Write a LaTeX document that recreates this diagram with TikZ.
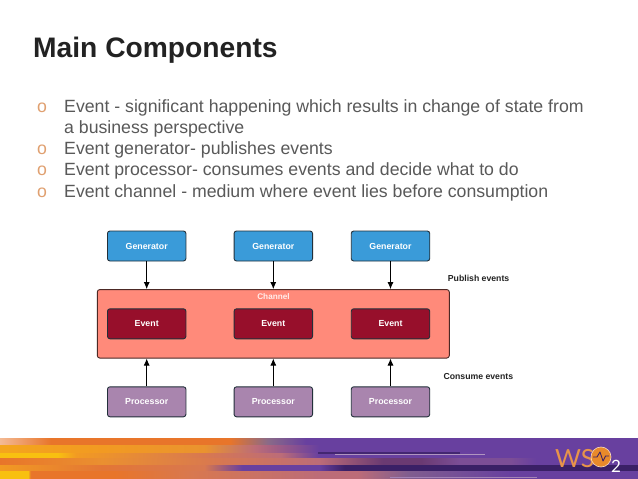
\documentclass[tikz,border=0pt]{standalone}
\usepackage{fontspec}
\setmainfont{Liberation Sans}
\newfontfamily\logofont{Lato}
\usetikzlibrary{arrows.meta}
\definecolor{genC}{HTML}{3A9BD9}
\definecolor{evC}{HTML}{970F2B}
\definecolor{prC}{HTML}{A985AE}
\definecolor{chC}{HTML}{FF8A7A}
\definecolor{edgeC}{HTML}{22303A}
\definecolor{bodyC}{HTML}{595959}
\definecolor{titleC}{HTML}{222222}
\definecolor{bulletC}{HTML}{E0A070}
\definecolor{logoC}{HTML}{E8944A}
\definecolor{logoO}{HTML}{E98A2B}
\definecolor{bOr}{HTML}{E8752A}
\definecolor{bYe}{HTML}{F8C010}
\definecolor{bAm}{HTML}{F29A22}
\definecolor{bSa}{HTML}{D87850}
\definecolor{bRo}{HTML}{BC6C78}
\definecolor{bPu}{HTML}{68409F}
\definecolor{bGr}{HTML}{8A6A88}
\definecolor{bDk}{HTML}{3A2066}
\definecolor{bMa}{HTML}{6A3A72}
\definecolor{bLi}{HTML}{7C4E96}
% position = 25 + x*50/638
\pgfdeclarehorizontalshading{sOne}{100bp}{color(0bp)=(bOr!50!white); color(25bp)=(bOr!50!white); color(29bp)=(bOr); color(43bp)=(bOr); color(46bp)=(bGr); color(49bp)=(bPu); color(100bp)=(bPu)}
\pgfdeclarehorizontalshading{sTwo}{100bp}{color(0bp)=(bAm!70!bYe); color(25bp)=(bAm!70!bYe); color(33bp)=(bAm); color(41bp)=(bAm!85!bRo); color(45bp)=(bRo); color(50bp)=(bPu); color(100bp)=(bPu)}
\pgfdeclarehorizontalshading{sThree}{100bp}{color(0bp)=(bYe); color(25bp)=(bYe); color(29.5bp)=(bYe); color(31bp)=(bAm); color(41bp)=(bSa); color(47bp)=(bRo); color(50bp)=(bPu); color(100bp)=(bPu)}
\pgfdeclarehorizontalshading{sFour}{100bp}{color(0bp)=(bOr); color(25bp)=(bOr); color(33bp)=(bAm!70!bSa); color(42bp)=(bSa); color(50bp)=(bRo); color(55bp)=(bMa); color(58bp)=(bMa); color(61bp)=(bLi); color(65bp)=(bLi); color(67bp)=(bPu); color(100bp)=(bPu)}
\pgfdeclarehorizontalshading{sFive}{100bp}{color(0bp)=(bAm); color(25bp)=(bAm); color(33bp)=(bOr!70!bSa); color(41bp)=(bSa); color(44bp)=(bPu); color(50bp)=(bPu); color(52bp)=(bDk); color(100bp)=(bDk)}
\pgfdeclarehorizontalshading{sSix}{100bp}{color(0bp)=(bYe); color(25bp)=(bYe); color(27.2bp)=(bYe); color(27.4bp)=(bOr); color(34bp)=(bOr); color(40bp)=(bSa); color(50bp)=(bRo); color(53bp)=(bRo); color(57bp)=(bGr!70!bPu); color(65bp)=(bPu); color(100bp)=(bPu)}
\tikzset{
  bandstrip/.style={draw=none},
  flowbox/.style={draw=edgeC, line width=0.9pt, rounded corners=2.5pt, minimum width=78.5pt, minimum height=30pt, inner sep=0pt, text=white, font=\fontsize{8.8}{10}\selectfont\bfseries},
  genbox/.style={flowbox, fill=genC},
  evbox/.style={flowbox, fill=evC},
  prbox/.style={flowbox, fill=prC},
  flow/.style={draw=black, line width=0.9pt, -{Latex[length=7pt,width=6pt]}},
  sidelabel/.style={inner sep=0pt, text=titleC, font=\fontsize{8.7}{10}\selectfont\bfseries},
  bodyline/.style={anchor=base west, inner sep=0pt, text=bodyC, font=\fontsize{17.7}{20}\selectfont},
  bulletmark/.style={anchor=base west, inner sep=0pt, text=bulletC, font=\fontsize{17.7}{20}\selectfont},
}
\begin{document}
\begin{tikzpicture}[x=1pt,y=-1pt]
\useasboundingbox (0,0) rectangle (638,479);
\fill[white] (0,0) rectangle (638,479);
% band
\shade[bandstrip,shading=sOne]   (0,438) rectangle (638,445.5);
\shade[bandstrip,shading=sTwo]   (0,445) rectangle (638,453.5);
\shade[bandstrip,shading=sThree] (0,453) rectangle (638,458.5);
\shade[bandstrip,shading=sFour]  (0,458) rectangle (638,465.5);
\shade[bandstrip,shading=sFive]  (0,465) rectangle (638,471.5);
\shade[bandstrip,shading=sSix]   (0,471) rectangle (638,479);
\fill[bDk!80!bPu] (318,452) rectangle (460,454);
\fill[bLi!60!white] (335,453.6) rectangle (485,455);
\fill[bLi!70!white] (390,477) rectangle (537,478.2);
% title and text
\node[anchor=base west, inner sep=0pt, text=titleC, font=\fontsize{28.2}{30}\selectfont\bfseries] (title) at (33,57) {Main Components};
\node[bulletmark] (b1) at (37,112.7) {o};
\node[bulletmark] (b2) at (37,154.3) {o};
\node[bulletmark] (b3) at (37,175.3) {o};
\node[bulletmark] (b4) at (37,197.3) {o};
\node[bodyline] (l1) at (64,112.7) {Event - significant happening which results in change of state from};
\node[bodyline] (l2) at (64,133.3) {a business perspective};
\node[bodyline] (l3) at (64,154.3) {Event generator- publishes events};
\node[bodyline] (l4) at (64,175.3) {Event processor- consumes events and decide what to do};
\node[bodyline] (l5) at (64,197.3) {Event channel - medium where event lies before consumption};
% diagram
\node[draw=black!70!chC, line width=0.9pt, fill=chC, rounded corners=2.5pt, minimum width=352pt, minimum height=68.5pt, inner sep=0pt] (ch) at (273.3,323.8) {};
\node[inner sep=0pt, text=white!85!chC, font=\fontsize{8.2}{10}\selectfont\bfseries] (chl) at (273.5,296.5) {Channel};
\node[genbox] (g1) at (146.7,246) {Generator};
\node[genbox] (g2) at (273.3,246) {Generator};
\node[genbox] (g3) at (390.5,246) {Generator};
\node[evbox] (e1) at (146.7,323.8) {Event};
\node[evbox] (e2) at (273.3,323.8) {Event};
\node[evbox] (e3) at (390.5,323.8) {Event};
\node[prbox] (p1) at (146.7,401.8) {Processor};
\node[prbox] (p2) at (273.3,401.8) {Processor};
\node[prbox] (p3) at (390.5,401.8) {Processor};
\foreach \n in {1,2,3} {
  \draw[flow] (g\n.south) -- (g\n.south |- ch.north);
  \draw[flow] (p\n.north) -- (p\n.north |- ch.south);
}
\node[sidelabel, anchor=west] (pub) at (447.7,278.7) {Publish events};
\node[sidelabel, anchor=west] (con) at (443.3,376.3) {Consume events};
% logo
\node[anchor=base west, inner sep=0pt, text=logoC, font=\logofont\fontsize{25}{28}\selectfont] (ws) at (555,467) {WS};
\node[circle, fill=logoO, draw=white!70!logoO, line width=0.6pt, minimum size=20pt, inner sep=0pt] (oo) at (601,457) {};
\draw[bDk, line width=0.9pt, line join=round] ([xshift=-8pt]oo.center) -- ++(4,0) -- ++(3,-5) -- ++(3,9) -- ++(2.5,-5) -- ++(3.5,0);
\node[anchor=base west, inner sep=0pt, text=white, font=\logofont\fontsize{17}{18}\selectfont] (two) at (611,472) {2};
\end{tikzpicture}
\end{document}
